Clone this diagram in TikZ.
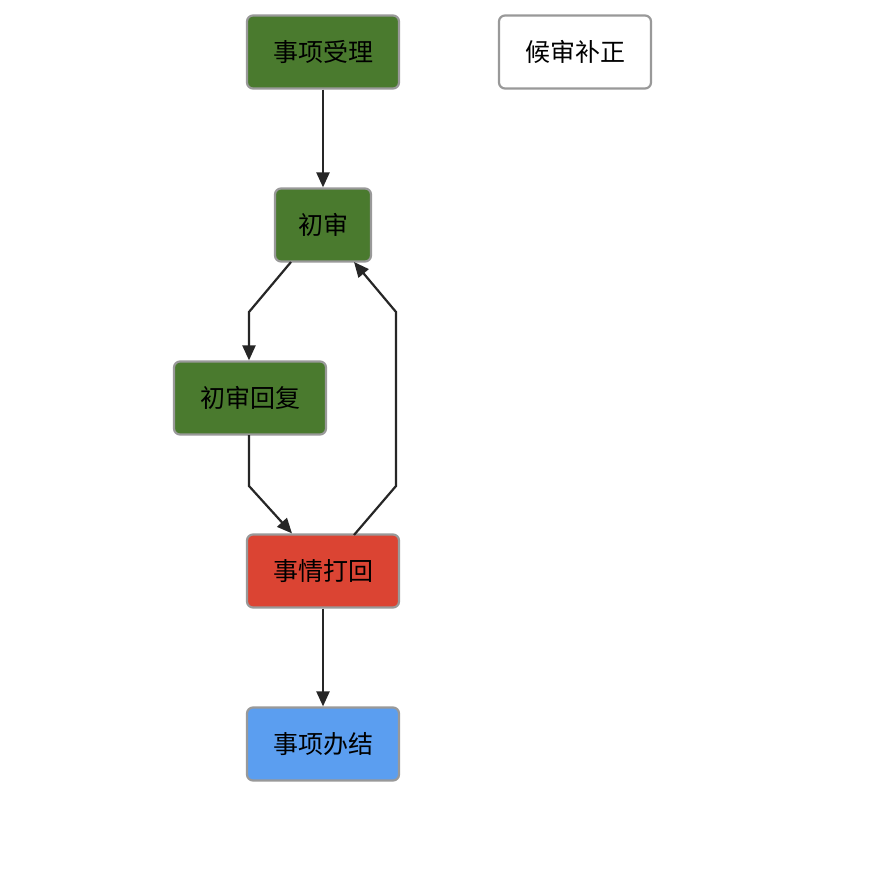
\documentclass[tikz,border=0pt]{standalone}
\usepackage{fontspec}
\newfontfamily\cjk{Noto Sans CJK SC}
\usetikzlibrary{arrows.meta}
\definecolor{gn}{HTML}{4A7A2E}
\definecolor{rd}{HTML}{DB4433}
\definecolor{bl}{HTML}{5B9EF0}
\definecolor{bd}{HTML}{999999}
\begin{document}
\begin{tikzpicture}[x=1pt,y=-1pt,
 box/.style={draw=bd,line width=2.2pt,rounded corners=6pt,minimum height=73pt,inner sep=0pt,font=\cjk\fontsize{25}{25}\selectfont,text=black},
 w4/.style={minimum width=152pt}, w2/.style={minimum width=96pt},
 edge/.style={draw=black!85,line width=2.2pt,-{Triangle[length=15pt,width=13pt]}}]
\useasboundingbox[fill=white] (0,0) rectangle (880,890);
\node[box,w4,fill=gn] (a) at (323,52) {事项受理};
\node[box,w4,fill=white] (h) at (575,52) {候审补正};
\node[box,w2,fill=gn] (b) at (323,225) {初审};
\node[box,w4,fill=gn] (c) at (250,398) {初审回复};
\node[box,w4,fill=rd] (d) at (323,571) {事情打回};
\node[box,w4,fill=bl] (e) at (323,744) {事项办结};
\coordinate (p1) at (291,262);
\coordinate (p2) at (249,435);
\coordinate (p3) at (354,535);
\coordinate (p4) at (354,262);
\draw[edge] (a) -- (b);
\draw[edge] (p1) -- (249,312) -- (c.north -| p2);
\draw[edge] (p2) -- (249,486) -- (d.north -| 292,0);
\draw[edge] (p3) -- (396,486) -- (396,312) -- (p4);
\draw[edge] (d) -- (e);
\end{tikzpicture}
\end{document}
